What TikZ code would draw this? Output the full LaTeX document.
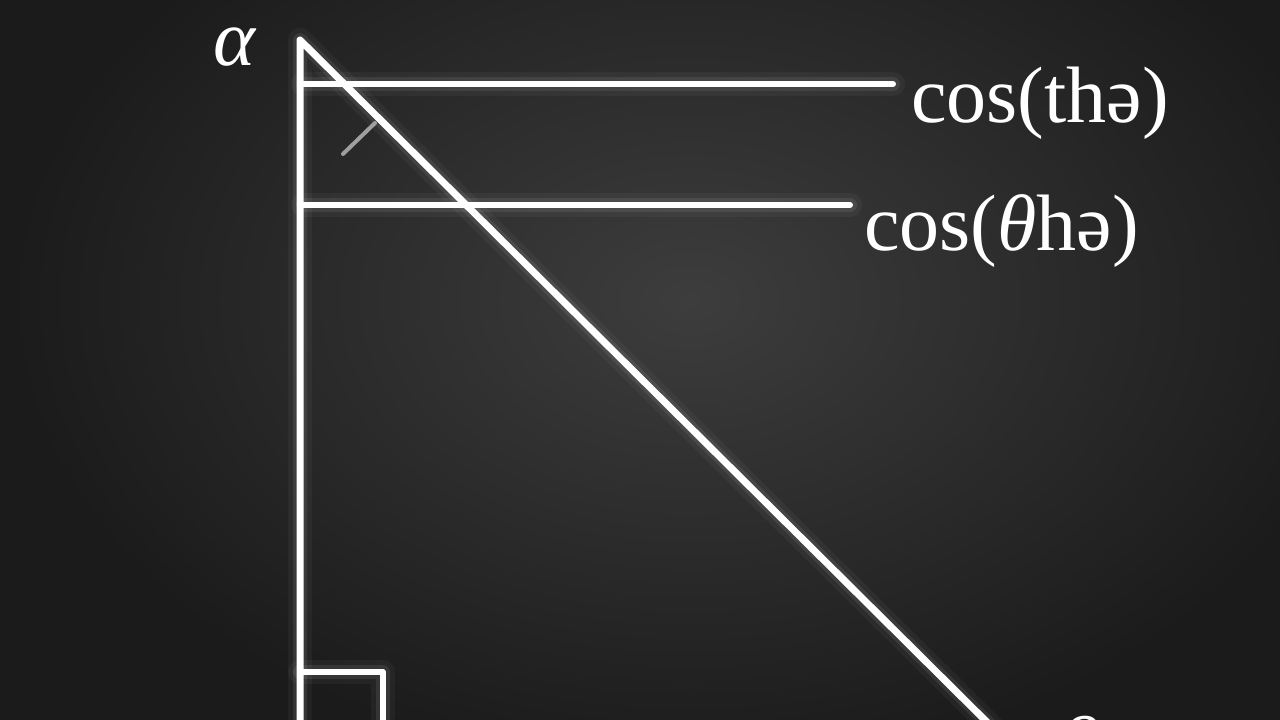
\documentclass[tikz,border=0pt]{standalone}
\usepackage{fontspec}
\setmainfont{Liberation Serif}
\definecolor{board}{HTML}{1B1B1B}
\definecolor{boardlit}{HTML}{3D3D3D}
\colorlet{chalk}{white}

\begin{document}
\begin{tikzpicture}[x=1pt,y=-1pt,
    chalkline/.style={chalk,line width=7pt,line cap=round,line join=round,
        preaction={draw,chalk,line width=24pt,opacity=0.04,line cap=round,line join=round},
        preaction={draw,chalk,line width=14pt,opacity=0.08,line cap=round,line join=round}},
    lbl/.style={text=chalk,font=\fontsize{80}{90}\selectfont,inner sep=0pt,anchor=base west}]
    \useasboundingbox (0,0) rectangle (1280,720);
    \clip (0,0) rectangle (1280,720);

    % board
    \fill [board] (0,0) rectangle (1280,720);
    \shade [inner color=boardlit,outer color=board] (690,300) ellipse (680 and 470);

    % corners of the triangle
    \coordinate (apex) at (300,40);
    \coordinate (foot) at (300,740);
    \coordinate (tip) at (1005,740);

    \draw [chalkline] (foot) -- (apex) -- (tip);

    % the two horizontal lines
    \coordinate (upL) at (303,84);
    \coordinate (upR) at (893,84);
    \coordinate (loL) at (303,205);
    \coordinate (loR) at (850,205);
    \draw [chalkline,line width=6pt] (upL) -- (upR);
    \draw [chalkline,line width=6pt] (loL) -- (loR);

    % angle tick
    \coordinate (tickA) at (343,154);
    \coordinate (tickB) at (375,123);
    \draw [gray!75,line width=4pt,line cap=round] (tickA) -- (tickB);

    % right angle
    \coordinate (boxT) at (383,672);
    \draw [chalkline,line width=6pt] (300,672) -- (boxT) -- (383,740);

    % labels
    \node [lbl] (alpha) at (213,65) {\textit{α}};
    \node [lbl] (costh) at (911,122) {cos(thə)};
    \node [lbl] (cosbh) at (864,250) {cos(\textit{θ}hə)};
    \node [lbl] (beta) at (1058,772) {\textit{β}};
\end{tikzpicture}
\end{document}
